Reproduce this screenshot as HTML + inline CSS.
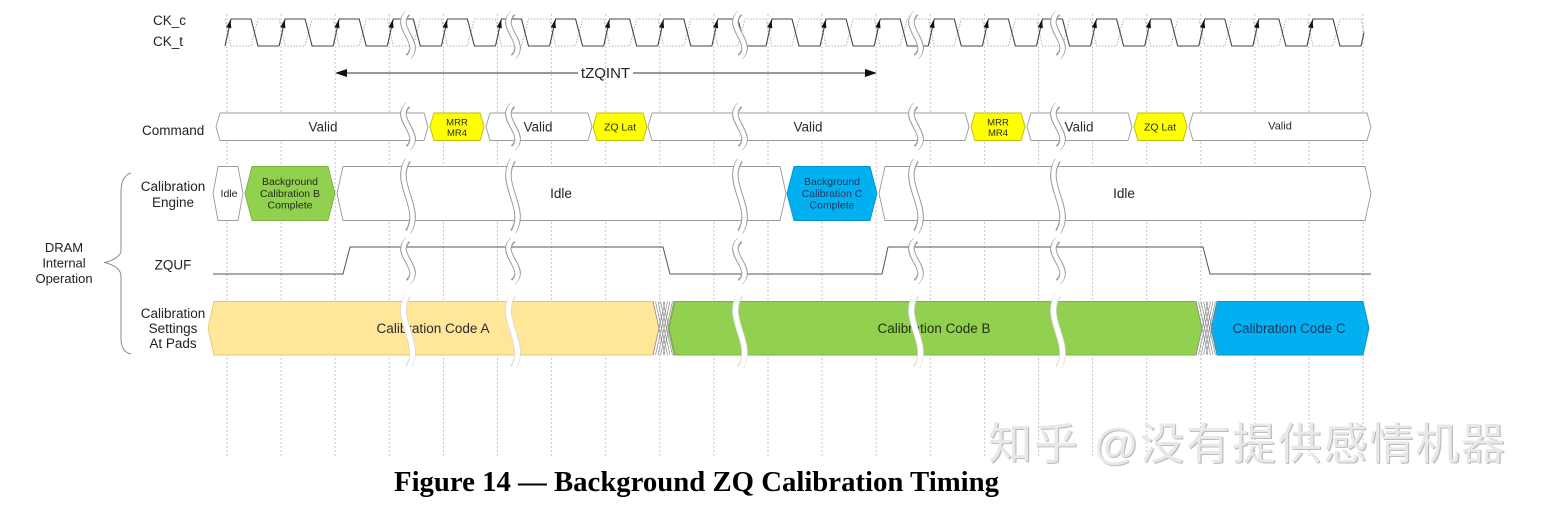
<!DOCTYPE html>
<html>
<head>
<meta charset="utf-8">
<style>
html,body{margin:0;padding:0;background:#fff;}
svg{display:block;}
</style>
</head>
<body>
<svg width="1543" height="509" viewBox="0 0 1543 509" xmlns="http://www.w3.org/2000/svg" xmlns:xlink="http://www.w3.org/1999/xlink" font-family="'Liberation Sans', Arial, sans-serif">
<defs>
  <g id="cyc">
    <path d="M-2,19 L4,46 L24,46 L31,19 L52.1,19" fill="none" stroke="#b0b0b0" stroke-width="1" stroke-dasharray="1.5,1.5"/>
    <path d="M-2,46 L4,19 L24,19 L31,46 L52.1,46" fill="none" stroke="#444" stroke-width="1.1"/>
    <polygon points="3.5,19.5 4.3,28.3 -0.7,27.3" fill="#111"/>
  </g>
</defs>
<rect width="1543" height="509" fill="#fff"/>

<!-- gridlines -->
<g stroke="#c6c6c6" stroke-width="1" stroke-dasharray="2,2">
  <line x1="227" y1="14" x2="227" y2="457"/>
  <line x1="281.1" y1="14" x2="281.1" y2="457"/>
  <line x1="335.2" y1="14" x2="335.2" y2="457"/>
  <line x1="389.3" y1="14" x2="389.3" y2="457"/>
  <line x1="443.4" y1="14" x2="443.4" y2="457"/>
  <line x1="497.5" y1="14" x2="497.5" y2="457"/>
  <line x1="551.6" y1="14" x2="551.6" y2="457"/>
  <line x1="605.7" y1="14" x2="605.7" y2="457"/>
  <line x1="659.8" y1="14" x2="659.8" y2="457"/>
  <line x1="713.9" y1="14" x2="713.9" y2="457"/>
  <line x1="768" y1="14" x2="768" y2="457"/>
  <line x1="822.1" y1="14" x2="822.1" y2="457"/>
  <line x1="876.2" y1="14" x2="876.2" y2="457"/>
  <line x1="930.3" y1="14" x2="930.3" y2="457"/>
  <line x1="984.4" y1="14" x2="984.4" y2="457"/>
  <line x1="1038.5" y1="14" x2="1038.5" y2="457"/>
  <line x1="1092.6" y1="14" x2="1092.6" y2="457"/>
  <line x1="1146.7" y1="14" x2="1146.7" y2="457"/>
  <line x1="1200.8" y1="14" x2="1200.8" y2="457"/>
  <line x1="1254.9" y1="14" x2="1254.9" y2="457"/>
  <line x1="1309" y1="14" x2="1309" y2="457"/>
  <line x1="1363.1" y1="14" x2="1363.1" y2="457"/>
</g>

<!-- clock -->
<g>
  <use href="#cyc" xlink:href="#cyc" transform="translate(227,0)"/>
  <use href="#cyc" xlink:href="#cyc" transform="translate(281.1,0)"/>
  <use href="#cyc" xlink:href="#cyc" transform="translate(335.2,0)"/>
  <use href="#cyc" xlink:href="#cyc" transform="translate(389.3,0)"/>
  <use href="#cyc" xlink:href="#cyc" transform="translate(443.4,0)"/>
  <use href="#cyc" xlink:href="#cyc" transform="translate(497.5,0)"/>
  <use href="#cyc" xlink:href="#cyc" transform="translate(551.6,0)"/>
  <use href="#cyc" xlink:href="#cyc" transform="translate(605.7,0)"/>
  <use href="#cyc" xlink:href="#cyc" transform="translate(659.8,0)"/>
  <use href="#cyc" xlink:href="#cyc" transform="translate(713.9,0)"/>
  <use href="#cyc" xlink:href="#cyc" transform="translate(768,0)"/>
  <use href="#cyc" xlink:href="#cyc" transform="translate(822.1,0)"/>
  <use href="#cyc" xlink:href="#cyc" transform="translate(876.2,0)"/>
  <use href="#cyc" xlink:href="#cyc" transform="translate(930.3,0)"/>
  <use href="#cyc" xlink:href="#cyc" transform="translate(984.4,0)"/>
  <use href="#cyc" xlink:href="#cyc" transform="translate(1038.5,0)"/>
  <use href="#cyc" xlink:href="#cyc" transform="translate(1092.6,0)"/>
  <use href="#cyc" xlink:href="#cyc" transform="translate(1146.7,0)"/>
  <use href="#cyc" xlink:href="#cyc" transform="translate(1200.8,0)"/>
  <use href="#cyc" xlink:href="#cyc" transform="translate(1254.9,0)"/>
  <use href="#cyc" xlink:href="#cyc" transform="translate(1309,0)"/>
  <path d="M1361.1,19 L1364,32.5" fill="none" stroke="#b0b0b0" stroke-dasharray="1.5,1.5"/>
  <path d="M1361.1,46 L1364,32.5" fill="none" stroke="#444" stroke-width="1.1"/>
</g>

<!-- labels -->
<g fill="#222" font-size="13.5">
  <text x="153" y="25">CK_c</text>
  <text x="153" y="46">CK_t</text>
  <text x="142" y="135">Command</text>
  <text x="173" y="191" text-anchor="middle">Calibration</text>
  <text x="173" y="207" text-anchor="middle">Engine</text>
  <text x="173" y="269.5" text-anchor="middle">ZQUF</text>
  <text x="173" y="318" text-anchor="middle">Calibration</text>
  <text x="173" y="333" text-anchor="middle">Settings</text>
  <text x="173" y="348" text-anchor="middle">At Pads</text>
  <text x="64" y="252" text-anchor="middle" font-size="13">DRAM</text>
  <text x="64" y="267.5" text-anchor="middle" font-size="13">Internal</text>
  <text x="64" y="283" text-anchor="middle" font-size="13">Operation</text>
</g>
<path d="M131,173 Q121,176 121,192 L121,250 Q121,258 105,262.5 Q121,267 121,276 L121,338 Q121,352 131,354" fill="none" stroke="#8a8a8a" stroke-width="1"/>

<!-- tZQINT -->
<g>
  <line x1="346" y1="73" x2="578" y2="73" stroke="#333" stroke-width="1"/>
  <line x1="633" y1="73" x2="866" y2="73" stroke="#333" stroke-width="1"/>
  <polygon points="335,73 347,69 347,77" fill="#111"/>
  <polygon points="877,73 865,69 865,77" fill="#111"/>
  <text x="605.5" y="78" text-anchor="middle" font-size="15" fill="#222">tZQINT</text>
</g>

<!-- Command row -->
<g stroke-width="0.9">
  <polygon points="216,126.75 220,113 424,113 428,126.75 424,140.5 220,140.5" fill="#fff" stroke="#9a9a9a"/>
  <polygon points="430,126.75 434,113 480,113 484,126.75 480,140.5 434,140.5" fill="#ffff00" stroke="#bdbd00"/>
  <polygon points="486,126.75 490,113 588,113 592,126.75 588,140.5 490,140.5" fill="#fff" stroke="#9a9a9a"/>
  <polygon points="593,126.75 597,113 643,113 647,126.75 643,140.5 597,140.5" fill="#ffff00" stroke="#bdbd00"/>
  <polygon points="648,126.75 652,113 965,113 969,126.75 965,140.5 652,140.5" fill="#fff" stroke="#9a9a9a"/>
  <polygon points="971,126.75 975,113 1021,113 1025,126.75 1021,140.5 975,140.5" fill="#ffff00" stroke="#bdbd00"/>
  <polygon points="1027,126.75 1031,113 1128,113 1132,126.75 1128,140.5 1031,140.5" fill="#fff" stroke="#9a9a9a"/>
  <polygon points="1134,126.75 1138,113 1183,113 1187,126.75 1183,140.5 1138,140.5" fill="#ffff00" stroke="#bdbd00"/>
  <polygon points="1189,126.75 1193,113 1367,113 1371,126.75 1367,140.5 1193,140.5" fill="#fff" stroke="#9a9a9a"/>
</g>
<g fill="#2a2a2a" text-anchor="middle">
  <text x="323" y="131.5" font-size="13.5">Valid</text>
  <text x="457" y="125.5" font-size="9.5">MRR</text>
  <text x="457" y="136" font-size="9.5">MR4</text>
  <text x="538" y="131.5" font-size="13.5">Valid</text>
  <text x="620" y="130.5" font-size="10.5">ZQ Lat</text>
  <text x="808" y="131.5" font-size="13.5">Valid</text>
  <text x="998" y="125.5" font-size="9.5">MRR</text>
  <text x="998" y="136" font-size="9.5">MR4</text>
  <text x="1079" y="131.5" font-size="13.5">Valid</text>
  <text x="1160" y="130.5" font-size="10.5">ZQ Lat</text>
  <text x="1280" y="129.5" font-size="11">Valid</text>
</g>

<!-- Calibration Engine row -->
<g stroke-width="0.9">
  <polygon points="213,193.5 218,166.5 238,166.5 243,193.5 238,220.5 218,220.5" fill="#fff" stroke="#9a9a9a"/>
  <polygon points="245,193.5 252,166.5 328,166.5 335,193.5 328,220.5 252,220.5" fill="#92d050" stroke="#7db441"/>
  <polygon points="337,193.5 343,166.5 780,166.5 786,193.5 780,220.5 343,220.5" fill="#fff" stroke="#9a9a9a"/>
  <polygon points="787,193.5 794,166.5 870,166.5 877,193.5 870,220.5 794,220.5" fill="#00b0f0" stroke="#0096cc"/>
  <polygon points="879,193.5 885,166.5 1365,166.5 1371,193.5 1365,220.5 885,220.5" fill="#fff" stroke="#9a9a9a"/>
</g>
<g text-anchor="middle">
  <text x="229" y="197" font-size="10.5" fill="#222">Idle</text>
  <text x="290" y="185" font-size="10.5" fill="#1e2d12">Background</text>
  <text x="290" y="197" font-size="10.5" fill="#1e2d12">Calibration B</text>
  <text x="290" y="208.5" font-size="10.5" fill="#1e2d12">Complete</text>
  <text x="561" y="198" font-size="13.5" fill="#222">Idle</text>
  <text x="832" y="185" font-size="10.5" fill="#1f3864">Background</text>
  <text x="832" y="197" font-size="10.5" fill="#1f3864">Calibration C</text>
  <text x="832" y="208.5" font-size="10.5" fill="#1f3864">Complete</text>
  <text x="1124" y="198" font-size="13.5" fill="#222">Idle</text>
</g>

<!-- ZQUF -->
<polyline points="213,274 343,274 350,247 663,247 670,274 882,274 888,247 1203,247 1210,274 1371,274" fill="none" stroke="#555" stroke-width="1"/>

<!-- Calibration settings row -->
<g stroke-width="0.9">
  <polygon points="208,328.25 214,301.5 653,301.5 659,328.25 653,355 214,355" fill="#ffe699" stroke="#e0c878"/>
  <polygon points="668,328.25 674,301.5 1196,301.5 1202,328.25 1196,355 674,355" fill="#92d050" stroke="#7db441"/>
  <polygon points="1211,328.25 1217,301.5 1363,301.5 1369,328.25 1363,355 1217,355" fill="#00b0f0" stroke="#0096cc"/>
</g>
<g stroke="#8c8c8c" stroke-width="0.7" fill="none">
  <path d="M653,301.5 L665,355 M653,355 L665,301.5"/>
  <path d="M655.5,301.5 L667.5,355 M655.5,355 L667.5,301.5"/>
  <path d="M658,301.5 L670,355 M658,355 L670,301.5"/>
  <path d="M660.5,301.5 L672.5,355 M660.5,355 L672.5,301.5"/>
  <path d="M663,301.5 L675,355 M663,355 L675,301.5"/>
  <path d="M1196,301.5 L1208,355 M1196,355 L1208,301.5"/>
  <path d="M1198.5,301.5 L1210.5,355 M1198.5,355 L1210.5,301.5"/>
  <path d="M1201,301.5 L1213,355 M1201,355 L1213,301.5"/>
  <path d="M1203.5,301.5 L1215.5,355 M1203.5,355 L1215.5,301.5"/>
  <path d="M1206,301.5 L1218,355 M1206,355 L1218,301.5"/>
</g>
<g text-anchor="middle" font-size="13.5">
  <text x="433" y="333" fill="#2a2a2a" textLength="113" lengthAdjust="spacingAndGlyphs">Calibration Code A</text>
  <text x="934" y="333" fill="#1e2d12" textLength="113" lengthAdjust="spacingAndGlyphs">Calibration Code B</text>
  <text x="1289" y="333" fill="#1f3864" textLength="113" lengthAdjust="spacingAndGlyphs">Calibration Code C</text>
</g>

<!-- break squiggles -->
<g fill="none" stroke-linecap="butt">
  <g stroke="#9a9a9a" stroke-width="6.5">
    <path d="M408,13 C392,27.5 424,42.5 408,57"/>
    <path d="M513,13 C497,27.5 529,42.5 513,57"/>
    <path d="M740,13 C724,27.5 756,42.5 740,57"/>
    <path d="M916,13 C900,27.5 932,42.5 916,57"/>
    <path d="M1058,13 C1042,27.5 1074,42.5 1058,57"/>
    <path d="M408,105 C392,119 424,134 408,148"/>
    <path d="M513,105 C497,119 529,134 513,148"/>
    <path d="M740,105 C724,119 756,134 740,148"/>
    <path d="M916,105 C900,119 932,134 916,148"/>
    <path d="M1058,105 C1042,119 1074,134 1058,148"/>
    <path d="M408,160 C392,184 424,208 408,232"/>
    <path d="M513,160 C497,184 529,208 513,232"/>
    <path d="M740,160 C724,184 756,208 740,232"/>
    <path d="M916,160 C900,184 932,208 916,232"/>
    <path d="M1058,160 C1042,184 1074,208 1058,232"/>
    <path d="M408,240 C392,254 424,268 408,282"/>
    <path d="M513,240 C497,254 529,268 513,282"/>
    <path d="M740,240 C724,254 756,268 740,282"/>
    <path d="M916,240 C900,254 932,268 916,282"/>
    <path d="M1058,240 C1042,254 1074,268 1058,282"/>
  </g>
  <g stroke="#ffffff" stroke-width="4.5">
    <path d="M408,12 C392,27.5 424,42.5 408,58"/>
    <path d="M513,12 C497,27.5 529,42.5 513,58"/>
    <path d="M740,12 C724,27.5 756,42.5 740,58"/>
    <path d="M916,12 C900,27.5 932,42.5 916,58"/>
    <path d="M1058,12 C1042,27.5 1074,42.5 1058,58"/>
    <path d="M408,104 C392,119 424,134 408,149"/>
    <path d="M513,104 C497,119 529,134 513,149"/>
    <path d="M740,104 C724,119 756,134 740,149"/>
    <path d="M916,104 C900,119 932,134 916,149"/>
    <path d="M1058,104 C1042,119 1074,134 1058,149"/>
    <path d="M408,159 C392,184 424,208 408,233"/>
    <path d="M513,159 C497,184 529,208 513,233"/>
    <path d="M740,159 C724,184 756,208 740,233"/>
    <path d="M916,159 C900,184 932,208 916,233"/>
    <path d="M1058,159 C1042,184 1074,208 1058,233"/>
    <path d="M408,239 C392,254 424,268 408,283"/>
    <path d="M513,239 C497,254 529,268 513,283"/>
    <path d="M740,239 C724,254 756,268 740,283"/>
    <path d="M916,239 C900,254 932,268 916,283"/>
    <path d="M1058,239 C1042,254 1074,268 1058,283"/>
  </g>
  <g stroke="#d8d8d8" stroke-width="6.5">
    <path d="M408,295 C392,319 424,344 408,368"/>
    <path d="M513,295 C497,319 529,344 513,368"/>
    <path d="M740,295 C724,319 756,344 740,368"/>
    <path d="M916,295 C900,319 932,344 916,368"/>
    <path d="M1058,295 C1042,319 1074,344 1058,368"/>
  </g>
  <g stroke="#ffffff" stroke-width="5">
    <path d="M408,294 C392,319 424,344 408,369"/>
    <path d="M513,294 C497,319 529,344 513,369"/>
    <path d="M740,294 C724,319 756,344 740,369"/>
    <path d="M916,294 C900,319 932,344 916,369"/>
    <path d="M1058,294 C1042,319 1074,344 1058,369"/>
  </g>
</g>

<!-- watermark -->
<text x="989.2" y="460.2" font-family="'Liberation Sans', 'Noto Sans CJK SC', sans-serif" font-size="44" fill="#bcbcbc" textLength="517">知乎 @没有提供感情机器</text>
<text x="988" y="459" font-family="'Liberation Sans', 'Noto Sans CJK SC', sans-serif" font-size="44" fill="#e8e8e8" textLength="517">知乎 @没有提供感情机器</text>

<!-- caption -->
<text x="394" y="491" font-family="'Liberation Serif', 'Times New Roman', serif" font-weight="bold" font-size="28.5" fill="#000" textLength="605" lengthAdjust="spacingAndGlyphs">Figure 14 — Background ZQ Calibration Timing</text>
</svg>
</body>
</html>
